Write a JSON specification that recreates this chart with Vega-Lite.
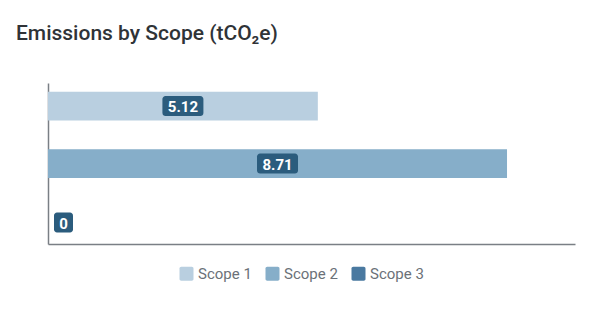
{
  "$schema": "https://vega.github.io/schema/vega-lite/v6.json",
  "autosize": {"type": "none"},
  "padding": {"left": 48, "top": 83, "right": 29, "bottom": 74},
  "width": 527,
  "height": 161,
  "background": "white",
  "title": {
    "text": "Emissions by Scope (tCO₂e)",
    "anchor": "start",
    "frame": "group",
    "dx": -32,
    "offset": 39,
    "font": "Roboto",
    "fontSize": 21,
    "fontWeight": 500,
    "color": "#2f3337"
  },
  "config": {
    "view": {"stroke": null},
    "font": "Roboto"
  },
  "data": {
    "values": [
      {"scope": "Scope 1", "value": 5.12},
      {"scope": "Scope 2", "value": 8.71},
      {"scope": "Scope 3", "value": 0}
    ]
  },
  "transform": [{"calculate": "datum.value / 2", "as": "mid"}],
  "encoding": {
    "y": {
      "field": "scope",
      "type": "nominal",
      "sort": ["Scope 1", "Scope 2", "Scope 3"],
      "scale": {"paddingInner": 0.5, "paddingOuter": 0.15},
      "axis": {"title": null, "labels": false, "ticks": false, "domainColor": "#7a7f85", "domainWidth": 1.5}
    }
  },
  "layer": [
    {
      "mark": {"type": "bar"},
      "encoding": {
        "x": {
          "field": "value",
          "type": "quantitative",
          "scale": {"domain": [0, 10], "nice": false},
          "axis": {"title": null, "labels": false, "ticks": false, "grid": false, "domainColor": "#7a7f85", "domainWidth": 1.5}
        },
        "color": {
          "field": "scope",
          "type": "nominal",
          "scale": {"domain": ["Scope 1", "Scope 2", "Scope 3"], "range": ["#b9cfe0", "#86aec9", "#4a79a0"]},
          "legend": {
            "title": null,
            "orient": "none",
            "direction": "horizontal",
            "legendX": 131,
            "legendY": 183,
            "symbolType": "M-0.75,-1H0.75A0.25,0.25 0 0 1 1,-0.75V0.75A0.25,0.25 0 0 1 0.75,1H-0.75A0.25,0.25 0 0 1 -1,0.75V-0.75A0.25,0.25 0 0 1 -0.75,-1Z",
            "symbolSize": 196,
            "symbolStrokeWidth": 0,
            "symbolOpacity": 1,
            "labelFont": "Roboto",
            "labelFontSize": 15,
            "labelColor": "#6b7178",
            "labelOffset": 4,
            "columnPadding": 13
          }
        }
      }
    },
    {
      "transform": [{"filter": "datum.value > 0"}],
      "mark": {
        "type": "point",
        "filled": true,
        "opacity": 1,
        "color": "#2b5c7d",
        "size": 1681,
        "shape": "M-0.85,-0.49H0.85A0.15,0.15 0 0 1 1,-0.34V0.34A0.15,0.15 0 0 1 0.85,0.49H-0.85A0.15,0.15 0 0 1 -1,0.34V-0.34A0.15,0.15 0 0 1 -0.85,-0.49Z"
      },
      "encoding": {"x": {"field": "mid", "type": "quantitative"}}
    },
    {
      "transform": [{"filter": "datum.value > 0"}],
      "mark": {"type": "text", "color": "white", "fontWeight": "bold", "fontSize": 15, "baseline": "middle", "align": "center", "dy": 1},
      "encoding": {
        "x": {"field": "mid", "type": "quantitative"},
        "text": {"field": "value", "type": "quantitative", "format": ".2f"}
      }
    },
    {
      "transform": [{"filter": "datum.value == 0"}],
      "mark": {
        "type": "point",
        "filled": true,
        "opacity": 1,
        "color": "#2b5c7d",
        "size": 400,
        "xOffset": 15.5,
        "yOffset": 1.5,
        "shape": "M-0.65,-1H0.65A0.3,0.3 0 0 1 0.95,-0.7V0.7A0.3,0.3 0 0 1 0.65,1H-0.65A0.3,0.3 0 0 1 -0.95,0.7V-0.7A0.3,0.3 0 0 1 -0.65,-1Z"
      },
      "encoding": {"x": {"field": "mid", "type": "quantitative"}}
    },
    {
      "transform": [{"filter": "datum.value == 0"}],
      "mark": {"type": "text", "color": "white", "fontWeight": "bold", "fontSize": 15, "baseline": "middle", "align": "center", "dx": 15.5, "dy": 2.5},
      "encoding": {
        "x": {"field": "mid", "type": "quantitative"},
        "text": {"field": "value", "type": "quantitative", "format": "d"}
      }
    }
  ]
}
